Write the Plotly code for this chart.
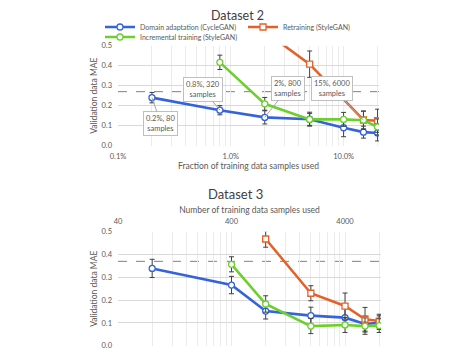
import math
import plotly.graph_objects as go

# ---------------- data ----------------
# Dataset 2 (x = fraction of training data used, %)
d2_x = [0.2, 0.8, 2, 5, 10, 15, 20]
d2_domain = [0.240, 0.177, 0.141, 0.132, 0.089, 0.067, 0.063]
d2_domain_err = [0.026, 0.023, 0.033, 0.035, 0.045, 0.030, 0.040]
d2_incr_x = [0.8, 2, 5, 10, 15, 20]
d2_incr = [0.417, 0.209, 0.131, 0.131, 0.127, 0.093]
d2_incr_err = [0.036, 0.032, 0.030, 0.035, 0.045, 0.040]
d2_retr_x = [2, 5, 15, 20]
d2_retr = [0.572, 0.408, 0.128, 0.124]
d2_retr_err = [0.060, 0.066, 0.045, 0.058]
d2_threshold = 0.27
d2_ticks = [0.1, 1, 10]
d2_ticktext = ["0.1%", "1.0%", "10.0%"]
d2_callouts = [(0.2, 0.240, "0.2%, 80<br>samples"),
               (0.8, 0.177, "0.8%, 320<br>samples"),
               (2, 0.141, "2%, 800<br>samples"),
               (15, 0.127, "15%, 6000<br>samples")]

# Dataset 3 (x = number of training samples used)
d3_x = [80, 400, 800, 2000, 4000, 6000, 8000]
d3_domain = [0.339, 0.266, 0.152, 0.132, 0.123, 0.095, 0.101]
d3_domain_err = [0.040, 0.038, 0.035, 0.037, 0.040, 0.035, 0.030]
d3_incr_x = [400, 800, 2000, 4000, 6000, 8000]
d3_incr = [0.357, 0.183, 0.086, 0.091, 0.086, 0.088]
d3_incr_err = [0.033, 0.036, 0.033, 0.033, 0.036, 0.030]
d3_retr_x = [800, 2000, 4000, 6000, 8000]
d3_retr = [0.468, 0.230, 0.174, 0.116, 0.108]
d3_retr_err = [0.036, 0.033, 0.057, 0.052, 0.030]
d3_threshold = 0.37
d3_ticks = [40, 400, 4000]
d3_ticktext = ["40", "400", "4000"]

names = ["Domain adaptation (CycleGAN)", "Retraining (StyleGAN)", "Incremental training (StyleGAN)"]

# ---------------- style ----------------
OFF = 8  # page body margin
W, H = 474 - OFF, 357 - OFF
FONT = "Lato"
BLUE = "#3563dc"
ORANGE = "#e4622a"
GREEN = "#6cd02c"
TXT = "#595959"
ERR = "#404040"


def px_x(p):
    return (p - OFF) / W


def px_y(p):
    return 1 - (p - OFF) / H


def minor_vals(lo, hi):
    vals = []
    d = lo
    while d < hi * 1.0001:
        for k in range(1, 10):
            v = d * k
            if v <= hi * 1.0001:
                vals.append(v)
        d *= 10
    return vals


def grid_ticks(lo, hi, major, labels):
    vals = minor_vals(lo, hi)
    text = []
    for v in vals:
        lab = ""
        for m, t in zip(major, labels):
            if abs(v - m) / m < 1e-6:
                lab = t
        text.append(lab)
    return vals, text


fig = go.Figure()


def add_series(x, y, err, name, color, symbol, xa, ya, show, legend):
    fig.add_trace(go.Scatter(
        x=x, y=y, name=name, mode="lines+markers",
        line=dict(color=color, width=2.6),
        marker=dict(symbol=symbol, size=6, color="white", line=dict(color=color, width=1.3)),
        error_y=dict(type="data", array=err, color=ERR, thickness=1, width=2.5),
        xaxis=xa, yaxis=ya, showlegend=show, legendgroup=name, legend=legend,
        cliponaxis=True,
    ))


add_series(d2_x, d2_domain, d2_domain_err, names[0], BLUE, "circle", "x", "y", True, "legend")
add_series(d2_retr_x, d2_retr, d2_retr_err, names[1], ORANGE, "square", "x", "y", True, "legend3")
add_series(d2_incr_x, d2_incr, d2_incr_err, names[2], GREEN, "circle", "x", "y", True, "legend2")
add_series(d3_x, d3_domain, d3_domain_err, names[0], BLUE, "circle", "x2", "y2", False, "legend")
add_series(d3_retr_x, d3_retr, d3_retr_err, names[1], ORANGE, "square", "x2", "y2", False, "legend3")
add_series(d3_incr_x, d3_incr, d3_incr_err, names[2], GREEN, "circle", "x2", "y2", False, "legend2")

# axes
t2v, t2t = grid_ticks(0.1, 20, d2_ticks, d2_ticktext)
t3v, t3t = grid_ticks(40, 8000, d3_ticks, d3_ticktext)

common_x = dict(type="log", showgrid=True, gridcolor="#ebebeb", gridwidth=1,
                zeroline=False, showline=False, ticks="", automargin=False,
                ticklabelstandoff=5,
                tickfont=dict(family=FONT, size=7.5, color=TXT))
common_y = dict(range=[0, 0.5], dtick=0.1, tickformat=".1f", showgrid=True,
                gridcolor="#d9d9d9", gridwidth=1, zeroline=False, showline=False,
                ticks="", automargin=False, ticklabelstandoff=5,
                tickfont=dict(family=FONT, size=7.5, color=TXT),
                title=dict(text="Validation data MAE", font=dict(family=FONT, size=8.5, color=TXT), standoff=2))

fig.update_layout(
    xaxis=dict(common_x, domain=[px_x(118), px_x(379)],
               range=[math.log10(0.1), math.log10(20.6)],
               tickmode="array", tickvals=t2v, ticktext=t2t, anchor="y",
               title=dict(text="Fraction of training data samples used",
                          font=dict(family=FONT, size=8.5, color=TXT), standoff=3)),
    yaxis=dict(common_y, domain=[px_y(145.5), px_y(45.8)], anchor="x"),
    xaxis2=dict(common_x, domain=[px_x(118), px_x(381)],
                range=[math.log10(40), math.log10(8300)], side="top",
                tickmode="array", tickvals=t3v, ticktext=t3t, anchor="y2",
                title=dict(text="Number of training data samples used",
                           font=dict(family=FONT, size=8.5, color=TXT), standoff=2)),
    yaxis2=dict(common_y, domain=[px_y(345.7), px_y(231.7)], anchor="x2"),
)

# thresholds
for thr, xr, yr in [(d2_threshold, "x domain", "y"), (d3_threshold, "x2 domain", "y2")]:
    fig.add_shape(type="line", xref=xr, yref=yr, x0=0, x1=1, y0=thr, y1=thr,
                  line=dict(color="#808080", width=1, dash="dash"), layer="below")

# callout annotations (dataset 2)
offsets = [(9, 26), (-17, -21), (23, -29), (-31, -32)]
for (cx, cy, txt), (ax, ay) in zip(d2_callouts, offsets):
    fig.add_annotation(x=math.log10(cx), y=cy, xref="x", yref="y", text=txt,
                       showarrow=True, arrowhead=0, arrowwidth=1, arrowcolor="#a6a6a6",
                       ax=ax, ay=ay, bgcolor="white", bordercolor="#bfbfbf",
                       borderwidth=1, borderpad=2,
                       font=dict(family=FONT, size=7.5, color=TXT))

# titles
fig.add_annotation(text="Dataset 2", x=px_x(237), y=px_y(15.5), xref="paper", yref="paper",
                   xanchor="center", yanchor="middle",
                   showarrow=False, font=dict(family=FONT, size=12.5, color="#404040"))
fig.add_annotation(text="Dataset 3", x=px_x(235), y=px_y(194), xref="paper", yref="paper",
                   xanchor="center", yanchor="middle",
                   showarrow=False, font=dict(family=FONT, size=13, color="#404040"))

leg_common = dict(orientation="h", xanchor="left", yanchor="middle",
                  font=dict(family=FONT, size=7, color=TXT),
                  bgcolor="rgba(0,0,0,0)", itemwidth=30)
fig.update_layout(
    width=W, height=H, margin=dict(l=0, r=0, t=0, b=0, autoexpand=False),
    paper_bgcolor="white", plot_bgcolor="white",
    font=dict(family=FONT, color=TXT),
    legend=dict(leg_common, x=px_x(100), y=px_y(27)),
    legend3=dict(leg_common, x=px_x(243), y=px_y(27)),
    legend2=dict(leg_common, x=px_x(100), y=px_y(37)),
)

fig.write_html("out.html")
